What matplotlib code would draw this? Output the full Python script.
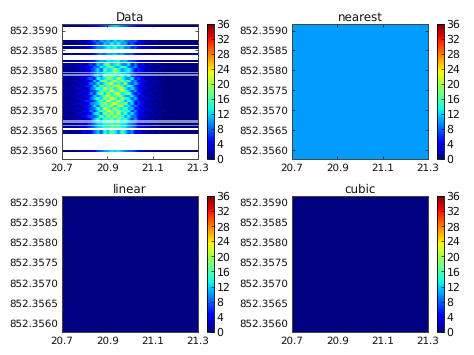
import matplotlib
matplotlib.use('Agg')
import matplotlib.pyplot as plt
import numpy as np

# x range of the measured map
x_range = [20.7, 21.3]
y_range = [852.35577, 852.35916]

# (bottom, top) of each measured y band, top of the map first
y_bands = [
    (852.359084, 852.359134),
    (852.358698, 852.358749),
    (852.358631, 852.358682),
    (852.358539, 852.358598),
    (852.358397, 852.358447),
    (852.358204, 852.358254),
    (852.358112, 852.358187),
    (852.358044, 852.358112),
    (852.357952, 852.358044),
    (852.357886, 852.357952),
    (852.357807, 852.357886),
    (852.357744, 852.357807),
    (852.357682, 852.357744),
    (852.357620, 852.357682),
    (852.357557, 852.357620),
    (852.357495, 852.357557),
    (852.357432, 852.357495),
    (852.357370, 852.357432),
    (852.357308, 852.357370),
    (852.357245, 852.357308),
    (852.357183, 852.357245),
    (852.357120, 852.357183),
    (852.357058, 852.357120),
    (852.356996, 852.357058),
    (852.356933, 852.356996),
    (852.356871, 852.356933),
    (852.356808, 852.356871),
    (852.356712, 852.356808),
    (852.356553, 852.356712),
    (852.356411, 852.356494),
    (852.355950, 852.356000),
]

# thin y ranges with partial coverage, they come out pale
pale_gaps = [
    (852.357936, 852.357969),
    (852.357869, 852.357902),
    (852.356679, 852.356746),
    (852.356600, 852.356625),
]

counts = [
    [0,0,0,0,0,1,1,1,3,4,5,6,7,9,11,12,11,9,8,7,6,4,2,2,1,1,1,0,0,0,0,0,0,0,0,0,0,0,0,0],
    [0,0,0,0,1,1,1,2,5,8,6,11,9,12,9,13,10,12,9,8,7,8,3,2,1,1,1,1,0,0,0,0,0,0,0,0,0,0,0,0],
    [0,0,0,0,0,1,1,2,4,6,9,7,12,10,14,11,14,10,11,6,8,5,3,3,1,1,0,1,0,0,0,0,0,0,0,0,0,0,0,0],
    [0,0,0,1,1,1,2,3,5,7,10,9,11,14,12,15,11,13,9,10,6,7,4,2,2,1,1,0,0,0,0,0,0,0,0,0,0,0,0,0],
    [0,0,0,0,1,1,2,2,4,5,8,9,8,11,10,12,9,11,8,7,8,4,3,2,1,1,0,0,1,0,0,0,0,0,0,0,0,0,0,0],
    [0,1,0,1,1,1,2,3,5,6,9,11,10,13,12,13,14,10,12,8,7,6,3,2,2,1,1,0,0,0,0,0,0,0,0,0,0,0,0,0],
    [1,1,1,1,1,3,1,2,7,5,12,9,15,18,11,13,16,10,9,13,5,9,2,5,1,2,1,1,1,0,0,0,0,0,0,0,0,0,0,0],
    [1,0,1,1,2,1,3,5,3,9,8,14,11,16,19,12,11,17,14,8,7,10,4,2,3,1,1,0,0,1,0,0,0,0,0,0,0,0,0,0],
    [1,1,0,1,1,2,1,3,6,8,13,7,16,12,13,20,15,10,12,14,9,4,6,3,1,2,0,1,1,0,0,0,0,0,0,0,0,0,0,0],
    [1,1,1,1,1,2,3,4,6,8,11,11,13,15,14,17,15,12,12,10,8,6,4,2,2,2,1,1,0,0,0,0,0,0,0,0,0,0,0,0],
    [1,1,1,1,2,1,4,2,5,10,12,8,18,14,21,13,12,19,10,15,6,7,3,5,2,1,1,1,1,0,0,0,0,0,0,0,0,0,0,0],
    [1,1,0,1,1,3,1,6,8,5,15,11,13,19,16,12,22,15,11,9,14,5,7,2,1,2,1,1,0,1,0,0,0,0,0,0,0,0,0,0],
    [1,1,1,1,2,1,2,4,4,12,7,17,21,12,15,23,14,18,13,16,8,10,3,4,3,1,2,1,1,0,0,0,0,0,0,0,0,0,0,0],
    [1,0,1,1,1,3,2,3,9,7,14,10,15,18,22,13,17,12,21,10,7,11,6,2,2,1,1,1,0,0,0,0,0,0,0,0,0,0,0,0],
    [1,1,1,2,1,1,4,6,5,13,9,19,12,17,14,21,24,15,11,16,12,6,4,5,1,2,1,1,1,0,0,0,0,0,0,0,0,0,0,0],
    [1,1,1,1,2,3,1,2,8,10,16,12,23,15,20,12,18,21,14,9,13,8,5,2,3,1,1,1,0,0,0,0,0,0,0,0,0,0,0,0],
    [1,1,0,1,1,1,5,4,6,7,11,15,18,13,24,16,13,22,17,12,6,10,3,4,1,1,1,1,1,0,0,0,0,0,0,0,0,0,0,0],
    [1,1,1,1,2,3,2,3,10,6,14,20,11,21,13,19,23,12,15,18,9,5,7,2,2,2,1,0,1,0,0,0,0,0,0,0,0,0,0,0],
    [1,1,1,2,1,1,4,5,4,12,9,13,17,22,16,14,20,16,11,10,14,7,3,5,1,1,1,1,0,0,0,0,0,0,0,0,0,0,0,0],
    [1,0,1,1,2,3,1,3,8,11,16,11,20,14,24,18,12,21,15,13,8,11,4,2,3,2,1,1,1,0,0,0,0,0,0,0,0,0,0,0],
    [1,1,1,1,1,1,5,6,5,7,13,18,12,23,15,13,22,17,10,16,11,6,6,3,1,1,1,0,1,0,0,0,0,0,0,0,0,0,0,0],
    [1,1,1,2,2,3,2,3,9,10,12,15,21,13,19,24,16,14,19,9,13,4,7,2,2,2,1,1,0,0,0,0,0,0,0,0,0,0,0,0],
    [1,1,0,1,1,1,4,4,6,13,8,19,14,18,22,12,20,23,11,14,7,9,3,4,1,1,1,1,1,0,0,0,0,0,0,0,0,0,0,0],
    [1,1,1,1,2,2,1,5,7,9,15,11,22,16,13,21,14,12,18,10,12,5,6,2,3,1,1,1,0,0,0,0,0,0,0,0,0,0,0,0],
    [1,1,1,2,1,1,5,3,10,6,12,17,13,24,18,15,20,16,13,15,6,10,3,4,2,2,1,1,0,1,0,0,0,0,0,0,0,0,0,0],
    [1,1,0,1,2,3,2,4,5,12,14,9,20,15,21,13,23,11,17,9,13,7,5,2,1,1,1,0,1,0,0,0,0,0,0,0,0,0,0,0],
    [1,1,1,1,1,1,4,6,8,7,11,18,12,19,14,22,15,18,10,14,8,9,3,3,3,1,1,1,0,0,0,0,0,0,0,0,0,0,0,0],
    [1,0,1,1,2,2,1,3,6,11,15,10,16,13,20,12,19,13,16,11,6,10,4,2,1,2,1,0,1,0,0,0,0,0,0,0,0,0,0,0],
    [1,1,1,1,1,3,2,5,7,9,12,12,15,14,17,15,16,13,13,10,9,7,4,3,2,1,1,1,0,0,0,0,0,0,0,0,0,0,0,0],
    [1,1,0,1,1,1,4,2,5,8,12,7,15,11,17,14,9,16,12,7,10,3,5,1,2,1,1,0,1,0,0,0,0,0,0,0,0,0,0,0],
    [0,0,0,0,1,1,1,2,3,4,7,8,10,11,13,12,13,11,9,8,8,6,3,2,1,1,0,1,0,0,0,0,0,0,0,0,0,0,0,0],
]

# the three gridded results are flat over the whole window
nearest_level = [[10]]
linear_level = [[0]]
cubic_level = [[0]]

titles = ['Data', 'nearest', 'linear', 'cubic']
x_ticks = [20.7, 20.9, 21.1, 21.3]
y_ticks = [852.3560, 852.3565, 852.3570, 852.3575, 852.3580, 852.3585, 852.3590]
c_ticks = list(range(0, 37, 4))

plt.rcParams['font.family'] = 'DejaVu Sans'
plt.rcParams['font.size'] = 7.4
plt.rcParams['text.hinting'] = 'none'
plt.rcParams['text.color'] = '#111111'
plt.rcParams['xtick.color'] = '#111111'
plt.rcParams['ytick.color'] = '#111111'

fig = plt.figure(figsize=(4.74, 3.55), dpi=100)

boxes = [(0.131, 0.552, 0.287, 0.380), (0.616, 0.552, 0.287, 0.380),
         (0.131, 0.065, 0.287, 0.383), (0.616, 0.065, 0.287, 0.383)]
cbars = [(0.437, 0.552, 0.014, 0.380), (0.922, 0.552, 0.014, 0.380),
         (0.437, 0.065, 0.014, 0.383), (0.922, 0.065, 0.014, 0.383)]

for i in range(4):
    ax = fig.add_axes(boxes[i])
    if i == 0:
        # each band is drawn on its own so the gaps between them stay white
        for (lo, hi), row in zip(y_bands, counts):
            im = ax.imshow([row], extent=[x_range[0], x_range[1], lo, hi], aspect='auto',
                           cmap='jet', vmin=0, vmax=36, interpolation='bilinear')
        for lo, hi in pale_gaps:
            ax.axhspan(lo, hi, color='white', alpha=0.55, linewidth=0)
    else:
        level = [nearest_level, linear_level, cubic_level][i - 1]
        im = ax.pcolormesh(x_range, y_range, np.array(level), cmap='jet', vmin=0, vmax=36)
    ax.set_xlim(x_range)
    ax.set_ylim(y_range)
    ax.set_xticks(x_ticks)
    ax.set_xticklabels(['%.1f' % v for v in x_ticks])
    ax.set_yticks(y_ticks)
    ax.set_yticklabels(['%.4f' % v for v in y_ticks])
    ax.tick_params(direction='in', top=True, right=True, length=2.5, width=0.5, pad=3)
    for s in ax.spines.values():
        s.set_linewidth(0.7)
        s.set_color('#444444')
    ax.set_title(titles[i], fontsize=8.6, pad=2.5)

    cax = fig.add_axes(cbars[i])
    cb = fig.colorbar(im, cax=cax, ticks=c_ticks)
    cb.ax.tick_params(direction='in', length=2, width=0.5, pad=2, labelsize=7.8)
    cb.outline.set_linewidth(0.6)

fig.savefig('out.png', dpi=100)
